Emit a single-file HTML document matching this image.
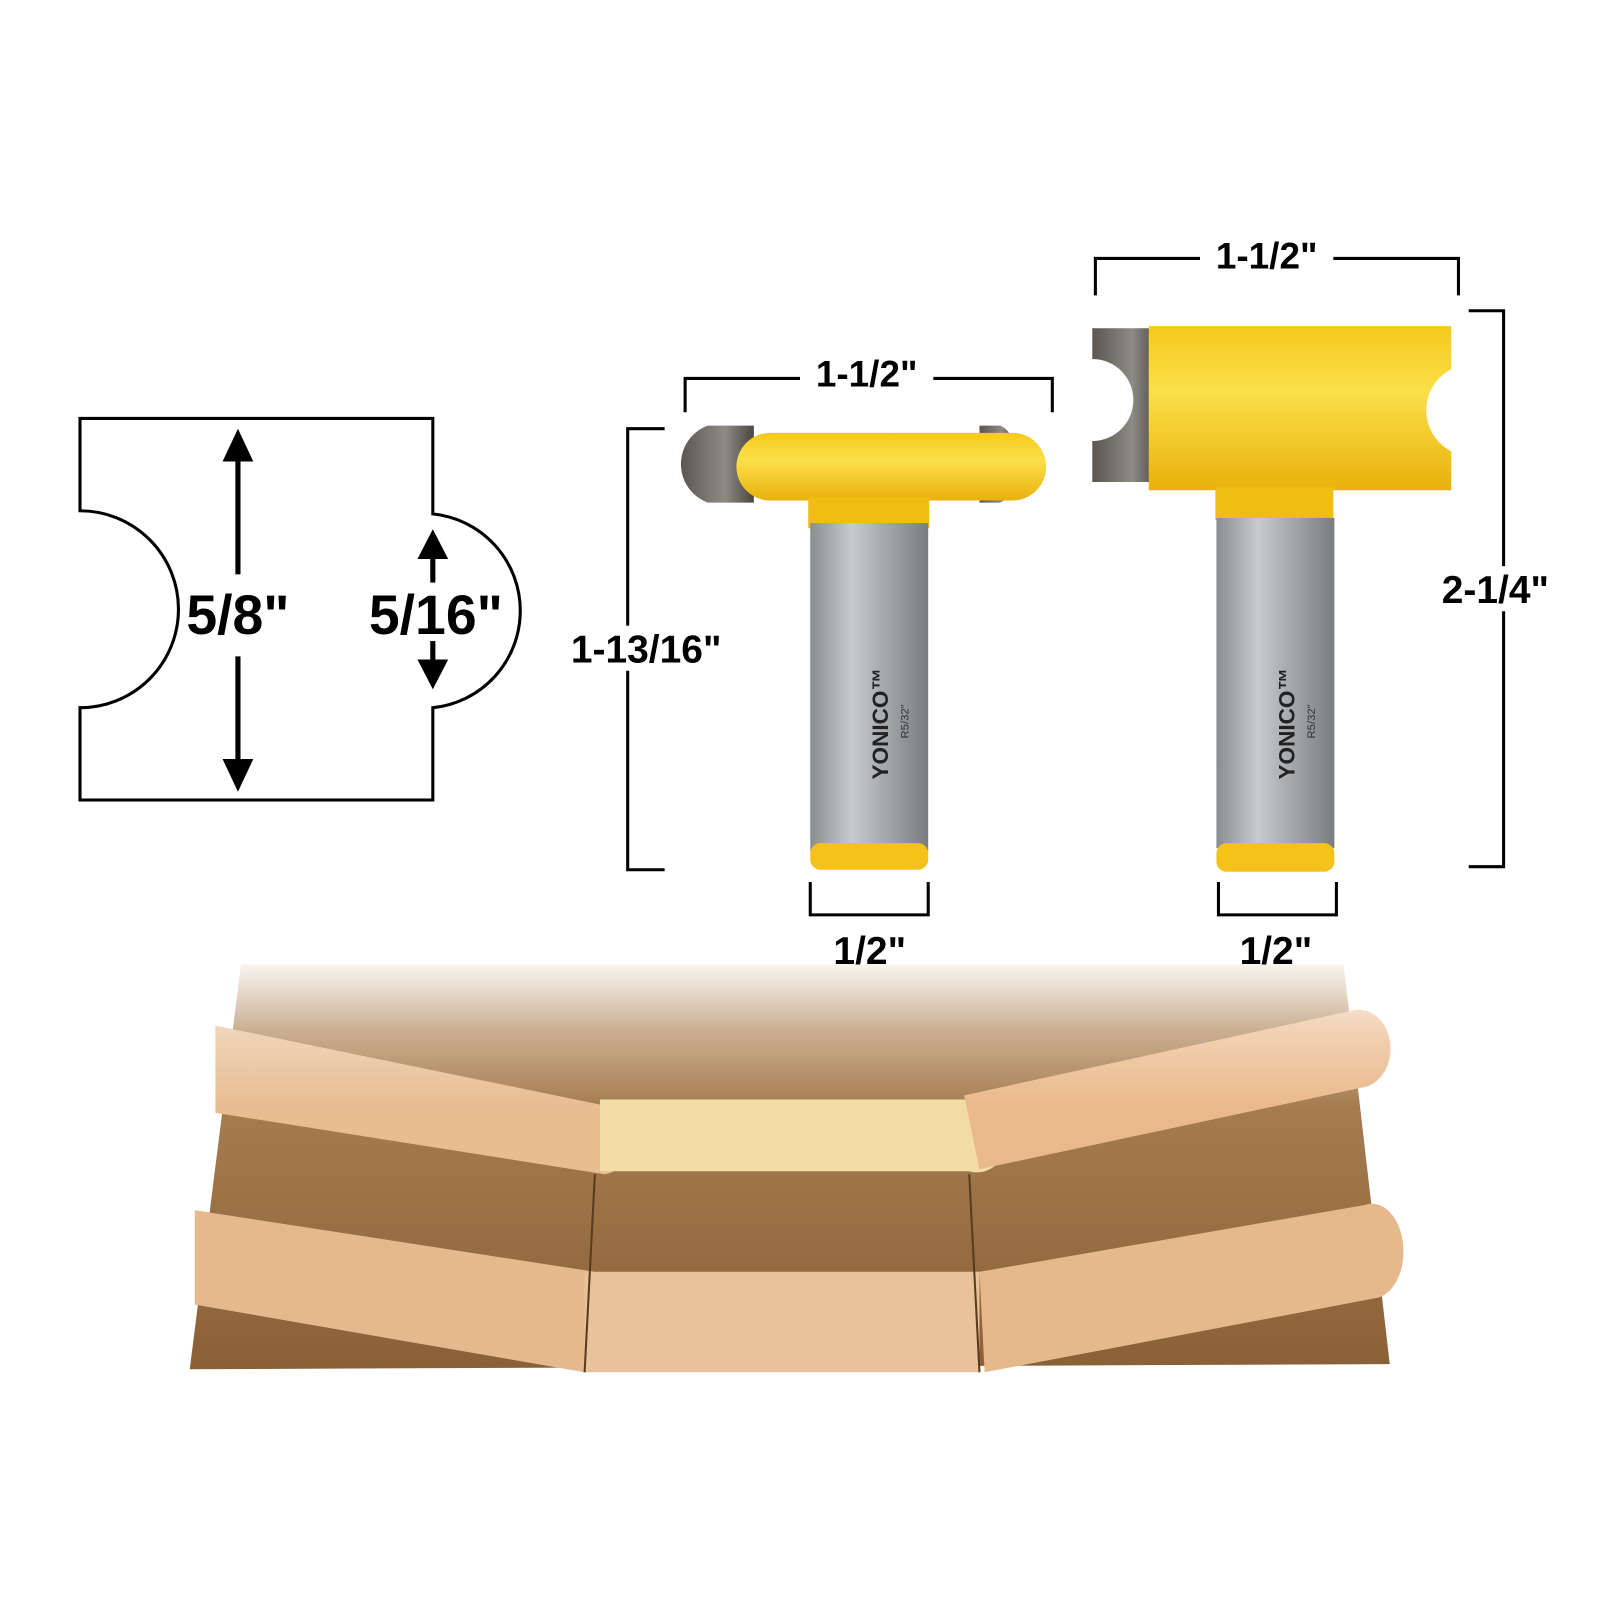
<!DOCTYPE html>
<html><head><style>html,body{margin:0;padding:0;background:#fff}svg{display:block}</style></head>
<body>
<svg width="1600" height="1600" viewBox="0 0 1560 1560" xmlns="http://www.w3.org/2000/svg" font-family="Liberation Sans, sans-serif" font-weight="bold">
<defs>
<linearGradient id="fade" x1="0" y1="0" x2="0" y2="1"><stop offset="0" stop-color="#fff" stop-opacity="1"/><stop offset="0.5" stop-color="#fff" stop-opacity="0.35"/><stop offset="1" stop-color="#fff" stop-opacity="0"/></linearGradient>
<linearGradient id="bg" x1="0" y1="0" x2="0" y2="1"><stop offset="0" stop-color="#b48a5c"/><stop offset="1" stop-color="#8a6037"/></linearGradient>
<linearGradient id="shank" x1="0" y1="0" x2="1" y2="0"><stop offset="0" stop-color="#8a8d90"/><stop offset="0.35" stop-color="#c8cacc"/><stop offset="0.6" stop-color="#a9acaf"/><stop offset="1" stop-color="#7a7d80"/></linearGradient>
<linearGradient id="yel" x1="0" y1="0" x2="0" y2="1"><stop offset="0" stop-color="#f6c81c"/><stop offset="0.4" stop-color="#fbe04a"/><stop offset="1" stop-color="#e9b10c"/></linearGradient>
<linearGradient id="carb" x1="0" y1="0" x2="1" y2="0"><stop offset="0" stop-color="#5a5650"/><stop offset="0.6" stop-color="#8e8a84"/><stop offset="1" stop-color="#4a4640"/></linearGradient>
</defs>
<!-- wood -->
<polygon points="235,940 1310,940 1355,1330 185,1335" fill="url(#bg)"/>
<path d="M210,1000 L600,1080 A35 35 0 0 1 590,1145 L210,1085 Z" fill="#e7bd92"/>
<path d="M585,1072 L960,1072 A30 35 0 0 1 945,1142 L585,1142 Z" fill="#f1dca4"/>
<path d="M940,1068 L1320,985 A30 37 0 0 1 1330,1060 L955,1140 Z" fill="#eab98b"/>
<polygon points="190,1180 580,1240 570,1338 190,1272" fill="#e5b98d"/>
<polygon points="570,1240 955,1240 955,1338 570,1338" fill="#e8c298"/>
<path d="M955,1240 L1330,1175 A30 45 0 0 1 1345,1265 L960,1338 Z" fill="#e6b98c"/>
<line x1="580" y1="1145" x2="570" y2="1338" stroke="#5a3b1e" stroke-width="2"/>
<line x1="945" y1="1145" x2="955" y2="1338" stroke="#5a3b1e" stroke-width="2"/>
<rect x="180" y="930" width="1200" height="150" fill="url(#fade)"/>
<!-- profile diagram -->
<path d="M78 408 H422 V501 A95 95 0 0 1 422 690 V780 H78 V690 A96 96 0 0 0 78 498 Z" fill="#fff" stroke="#000" stroke-width="3"/>
<line x1="232" y1="440" x2="232" y2="560" stroke="#000" stroke-width="5"/>
<line x1="232" y1="640" x2="232" y2="745" stroke="#000" stroke-width="5"/>
<polygon points="232,418 217,450 247,450" fill="#000"/>
<polygon points="232,772 217,740 247,740" fill="#000"/>
<line x1="422" y1="535" x2="422" y2="568" stroke="#000" stroke-width="5"/>
<line x1="422" y1="625" x2="422" y2="650" stroke="#000" stroke-width="5"/>
<polygon points="422,516 407,545 437,545" fill="#000"/>
<polygon points="422,672 407,643 437,643" fill="#000"/>
<text x="232" y="618" font-size="54" text-anchor="middle">5/8"</text>
<text x="425" y="618" font-size="54" text-anchor="middle">5/16"</text>
<!-- left bit dims -->
<path d="M668 402 V369 H1026 V402" fill="none" stroke="#000" stroke-width="3"/>
<rect x="780" y="345" width="130" height="40" fill="#fff"/>
<text x="845" y="377" font-size="36" text-anchor="middle">1-1/2"</text>
<path d="M648 418 H612 V848 H648" fill="none" stroke="#000" stroke-width="3"/>
<rect x="545" y="610" width="170" height="44" fill="#fff"/>
<text x="630" y="646" font-size="38" text-anchor="middle">1-13/16"</text>
<path d="M790 860 V892 H905 V860" fill="none" stroke="#000" stroke-width="3"/>
<!-- right bit dims -->
<path d="M1068 288 V252 H1422 V288" fill="none" stroke="#000" stroke-width="3"/>
<rect x="1170" y="228" width="130" height="40" fill="#fff"/>
<text x="1235" y="262" font-size="36" text-anchor="middle">1-1/2"</text>
<path d="M1432 303 H1466 V845 H1432" fill="none" stroke="#000" stroke-width="3"/>
<rect x="1390" y="552" width="140" height="44" fill="#fff"/>
<text x="1458" y="588" font-size="38" text-anchor="middle">2-1/4"</text>
<path d="M1188 860 V892 H1303 V860" fill="none" stroke="#000" stroke-width="3"/>
<!-- left bit -->
<path d="M690 415 H735 V490 H690 A40 40 0 0 1 690 415 Z" fill="url(#carb)"/>
<path d="M955 415 H975 A20 38 0 0 1 975 490 H955 Z" fill="url(#carb)"/>
<rect x="718" y="422" width="302" height="66" rx="33" fill="url(#yel)"/>
<rect x="788" y="485" width="118" height="30" fill="#f0bd12"/>
<rect x="790" y="510" width="115" height="320" fill="url(#shank)"/>
<rect x="790" y="822" width="115" height="26" rx="10" fill="#f4c21a"/>
<text transform="translate(866,760) rotate(-90)" font-size="22" fill="#222">YONICO™</text>
<text transform="translate(886,720) rotate(-90)" font-size="11" fill="#333" font-weight="normal">R5/32"</text>
<!-- right bit -->
<path d="M1065 320 H1130 V470 H1065 V430 A40 40 0 0 0 1065 350 Z" fill="url(#carb)"/>
<path d="M1120 318 H1415 V360 A45 45 0 0 0 1415 440 V478 H1120 Z" fill="url(#yel)"/>
<rect x="1185" y="475" width="115" height="32" fill="#f0bd12"/>
<rect x="1186" y="505" width="115" height="322" fill="url(#shank)"/>
<rect x="1186" y="822" width="115" height="28" rx="10" fill="#f4c21a"/>
<text transform="translate(1262,760) rotate(-90)" font-size="22" fill="#222">YONICO™</text>
<text transform="translate(1282,720) rotate(-90)" font-size="11" fill="#333" font-weight="normal">R5/32"</text>
<!-- bottom labels on top -->
<text x="848" y="940" font-size="38" text-anchor="middle">1/2"</text>
<text x="1244" y="940" font-size="38" text-anchor="middle">1/2"</text>
</svg>
</body></html>
